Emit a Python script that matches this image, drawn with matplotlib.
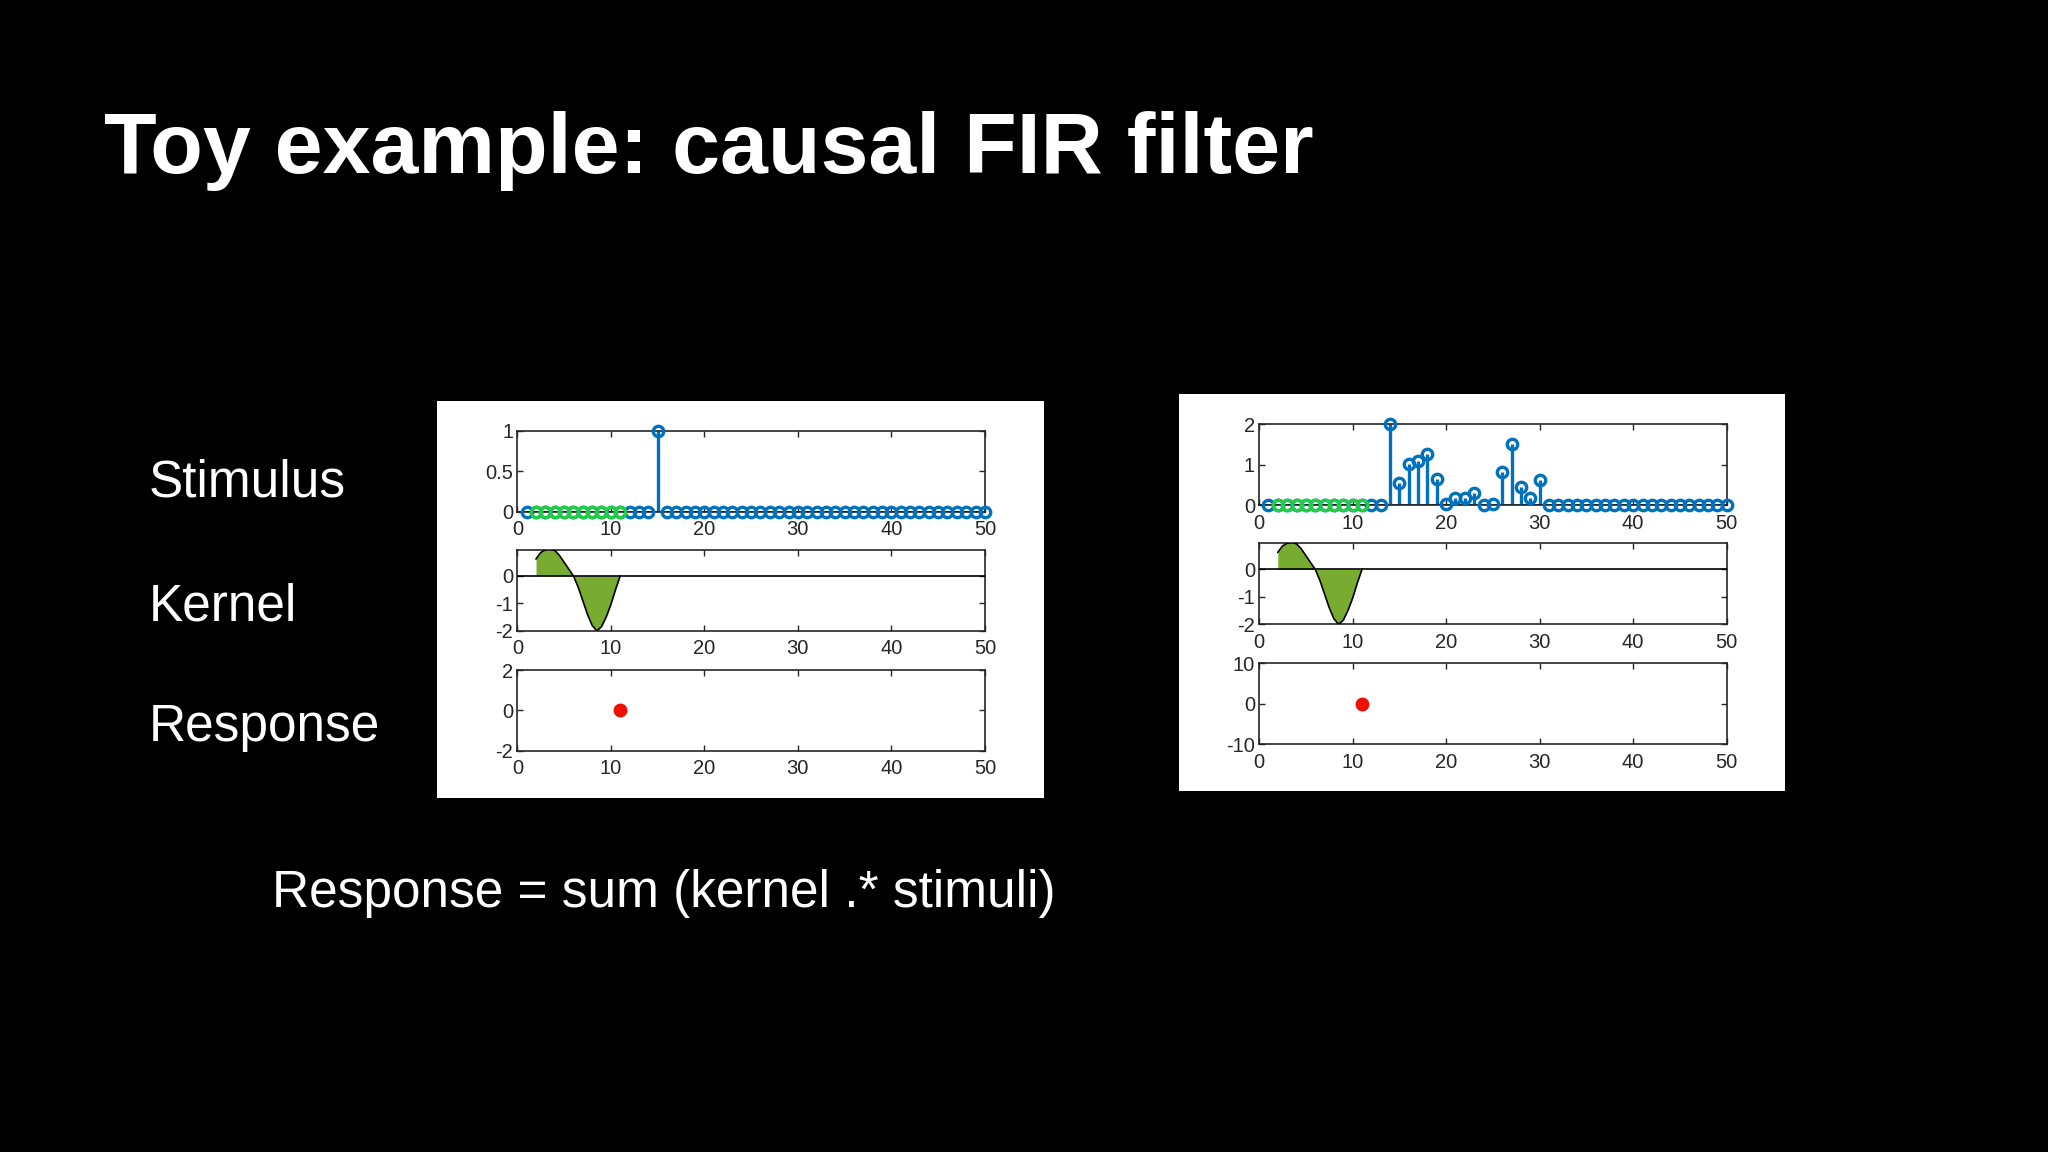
import numpy as np
import matplotlib.pyplot as plt
from matplotlib.patches import Rectangle

plt.rcParams['font.family'] = ['Liberation Sans', 'DejaVu Sans']
plt.rcParams['axes.unicode_minus'] = False

# sample index 1..50
n = np.arange(1, 51)

# stimulus, left panel: single impulse at 15
stim_left = np.zeros(50)
stim_left[14] = 1.0

# stimulus, right panel
stim_right_idx = [14, 15, 16, 17, 18, 19, 20, 21, 22, 23, 24, 25, 26, 27, 28, 29, 30]
stim_right_val = [2.0, 0.55, 1.03, 1.1, 1.26, 0.66, 0.04, 0.19, 0.19, 0.31, 0.0, 0.04,
                  0.82, 1.51, 0.45, 0.19, 0.62]
stim_right = np.zeros(50)
for i, v in zip(stim_right_idx, stim_right_val):
    stim_right[i - 1] = v

# kernel window (green markers) and kernel shape
win = np.arange(2, 12)
kern_x = [2, 2.5, 3, 3.5, 4, 4.5, 5, 5.5, 6, 6.5, 7, 7.5, 8, 8.5, 9, 9.5, 10, 10.5, 11]
kern_y = [0.62, 0.85, 0.95, 0.98, 0.93, 0.75, 0.5, 0.25, 0.0, -0.4, -0.9, -1.4, -1.8,
          -2.0, -1.85, -1.5, -1.05, -0.5, 0.0]

# response point
resp_x = [11]
resp_y = [0]

blue = '#0072BD'
green = '#22CC44'
kgreen = '#77AC30'
axcol = '#262626'

fig = plt.figure(figsize=(20.48, 11.52), dpi=100, facecolor='black')


def style(ax, yt, ylim):
    ax.set_xlim(0, 50)
    ax.set_ylim(*ylim)
    ax.set_xticks([0, 10, 20, 30, 40, 50])
    ax.set_yticks(yt)
    ax.tick_params(direction='in', top=True, right=True, length=4, width=1,
                   labelsize=14.5, colors=axcol, pad=3)
    ax.tick_params(axis='x', pad=6)
    for s in ax.spines.values():
        s.set_color(axcol)
        s.set_linewidth(1.2)
    ax.set_facecolor('white')
    ax.set_zorder(2)


def panel(dx, dy, stim, ylim_s, yt_s, ylim_r, yt_r):
    bg = Rectangle((0.2136 + dx, 0.3073 + dy), 0.296, 0.3446,
                   transform=fig.transFigure, facecolor='white',
                   edgecolor='none', zorder=-5)
    fig.add_artist(bg)
    w, h = 0.2283, 0.0703
    x0 = 0.2526 + dx

    # stimulus
    ax = fig.add_axes([x0, 0.5556 + dy, w, h])
    style(ax, yt_s, ylim_s)
    ax.axhline(0, color='black', lw=1.2, zorder=1)
    ax.vlines(n, 0, stim, color=blue, lw=2.4, zorder=2)
    ax.plot(n, stim, 'o', mfc='none', mec=blue, mew=2.4, ms=7.5, clip_on=False, zorder=3)
    ax.plot(win, stim[win - 1], 'o', mfc='none', mec=green, mew=2.4, ms=7.5,
            clip_on=False, zorder=4)
    ax.set_yticklabels([('%g' % t) for t in yt_s])

    # kernel
    ax = fig.add_axes([x0, 0.4524 + dy, w, h])
    style(ax, [-2, -1, 0], (-2, 0.95))
    ax.fill_between(kern_x, kern_y, 0, color=kgreen, lw=0, zorder=2)
    ax.plot(kern_x, kern_y, color='black', lw=1.2, zorder=3)
    ax.axhline(0, color='black', lw=1.2, zorder=3)

    # response
    ax = fig.add_axes([x0, 0.3481 + dy, w, h])
    style(ax, yt_r, ylim_r)
    ax.plot(resp_x, resp_y, 'o', color='#EE1100', ms=9, zorder=3)


panel(0, 0, stim_left, (0, 1), [0, 0.5, 1], (-2, 2), [-2, 0, 2])
panel(0.3622, 0.0057, stim_right, (0, 2), [0, 1, 2], (-10, 10), [-10, 0, 10])

fig.text(0.051, 0.850, 'Toy example: causal FIR filter', color='white',
         fontsize=62, fontweight='bold', va='baseline', ha='left')
fig.text(0.0727, 0.5805, 'Stimulus', color='white', fontsize=37, va='center')
fig.text(0.0727, 0.4735, 'Kernel', color='white', fontsize=37, va='center')
fig.text(0.0727, 0.3685, 'Response', color='white', fontsize=37, va='center')
fig.text(0.1327, 0.2245, 'Response = sum (kernel .* stimuli)', color='white',
         fontsize=37, va='center')

fig.savefig('out.png', dpi=100, facecolor='black')
